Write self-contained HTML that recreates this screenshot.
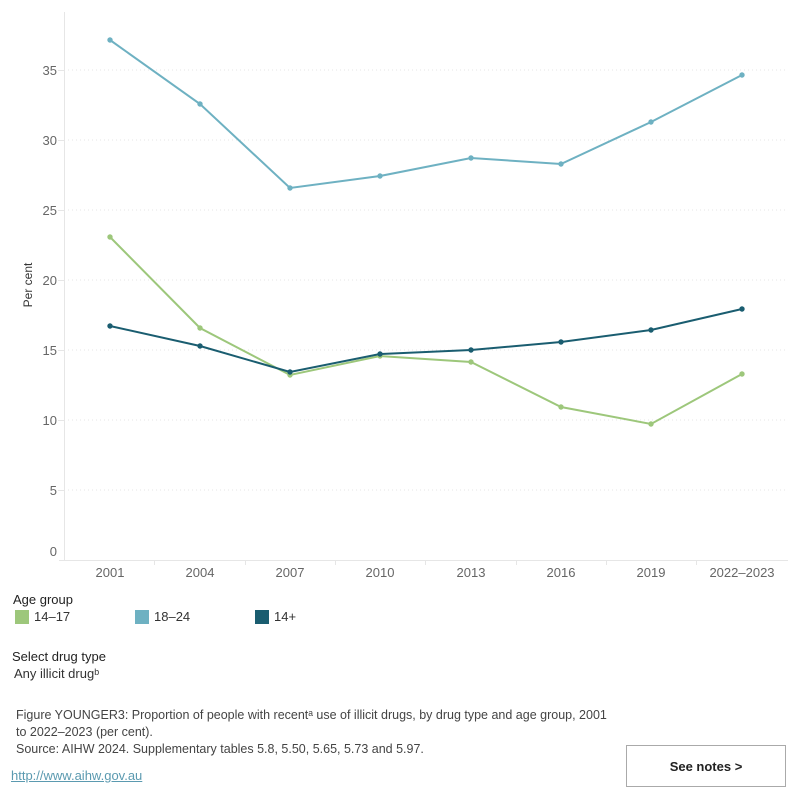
<!DOCTYPE html>
<html><head><meta charset="utf-8"><style>
body{margin:0;background:#fff;font-family:"Liberation Sans",sans-serif;}
.t{position:absolute;color:#333;}
</style></head><body>
<div style="position:relative;width:800px;height:800px;overflow:hidden">
<svg width="800" height="800" style="position:absolute;left:0;top:0" font-family="Liberation Sans, sans-serif">
<g stroke="#e6e6e6" stroke-width="1" stroke-dasharray="1,3">
<line x1="64" x2="788" y1="70" y2="70"/><line x1="64" x2="788" y1="140" y2="140"/>
<line x1="64" x2="788" y1="210" y2="210"/><line x1="64" x2="788" y1="280" y2="280"/>
<line x1="64" x2="788" y1="350" y2="350"/><line x1="64" x2="788" y1="420" y2="420"/>
<line x1="64" x2="788" y1="490" y2="490"/>
</g>
<g stroke="#e6e6e6">
<line x1="64.5" x2="64.5" y1="12" y2="560"/>
<line x1="59" x2="788" y1="560.5" y2="560.5"/>
<line x1="58" x2="64" y1="70.5" y2="70.5"/><line x1="58" x2="64" y1="140.5" y2="140.5"/>
<line x1="58" x2="64" y1="210.5" y2="210.5"/><line x1="58" x2="64" y1="280.5" y2="280.5"/>
<line x1="58" x2="64" y1="350.5" y2="350.5"/><line x1="58" x2="64" y1="420.5" y2="420.5"/>
<line x1="58" x2="64" y1="490.5" y2="490.5"/>
<line x1="154.5" x2="154.5" y1="560" y2="565"/><line x1="245.5" x2="245.5" y1="560" y2="565"/>
<line x1="335.5" x2="335.5" y1="560" y2="565"/><line x1="425.5" x2="425.5" y1="560" y2="565"/>
<line x1="516.5" x2="516.5" y1="560" y2="565"/><line x1="606.5" x2="606.5" y1="560" y2="565"/>
<line x1="696.5" x2="696.5" y1="560" y2="565"/>
</g>
<g font-size="13" fill="#666" text-anchor="end">
<text x="57" y="75">35</text><text x="57" y="145">30</text><text x="57" y="215">25</text>
<text x="57" y="285">20</text><text x="57" y="355">15</text><text x="57" y="425">10</text>
<text x="57" y="495">5</text><text x="57" y="556">0</text>
</g>
<g font-size="13" fill="#666" text-anchor="middle">
<text x="110" y="577">2001</text><text x="200" y="577">2004</text><text x="290" y="577">2007</text>
<text x="380" y="577">2010</text><text x="471" y="577">2013</text><text x="561" y="577">2016</text>
<text x="651" y="577">2019</text><text x="742" y="577">2022–2023</text>
</g>
<text transform="translate(32,285) rotate(-90)" font-size="12" fill="#333" text-anchor="middle">Per cent</text>
<g fill="none" stroke-width="2">
<polyline stroke="#6eb1c2" points="110,40 200,104 290,188 380,176 471,158 561,164 651,122 742,75"/>
<polyline stroke="#9dc77b" points="110,237 200,328 290,375 380,356 471,362 561,407 651,424 742,374"/>
<polyline stroke="#1a5d70" points="110,326 200,346 290,372 380,354 471,350 561,342 651,330 742,309"/>
</g>
<g fill="#6eb1c2"><circle cx="110" cy="40" r="2.7"/><circle cx="200" cy="104" r="2.7"/><circle cx="290" cy="188" r="2.7"/><circle cx="380" cy="176" r="2.7"/><circle cx="471" cy="158" r="2.7"/><circle cx="561" cy="164" r="2.7"/><circle cx="651" cy="122" r="2.7"/><circle cx="742" cy="75" r="2.7"/></g>
<g fill="#9dc77b"><circle cx="110" cy="237" r="2.7"/><circle cx="200" cy="328" r="2.7"/><circle cx="290" cy="375" r="2.7"/><circle cx="380" cy="356" r="2.7"/><circle cx="471" cy="362" r="2.7"/><circle cx="561" cy="407" r="2.7"/><circle cx="651" cy="424" r="2.7"/><circle cx="742" cy="374" r="2.7"/></g>
<g fill="#1a5d70"><circle cx="110" cy="326" r="2.7"/><circle cx="200" cy="346" r="2.7"/><circle cx="290" cy="372" r="2.7"/><circle cx="380" cy="354" r="2.7"/><circle cx="471" cy="350" r="2.7"/><circle cx="561" cy="342" r="2.7"/><circle cx="651" cy="330" r="2.7"/><circle cx="742" cy="309" r="2.7"/></g>
<rect x="15" y="610" width="14" height="14" fill="#9dc77b"/>
<rect x="135" y="610" width="14" height="14" fill="#6eb1c2"/>
<rect x="255" y="610" width="14" height="14" fill="#1a5d70"/>
</svg>
<div class="t" style="left:13px;top:592px;font-size:13px;color:#222">Age group</div>
<div class="t" style="left:34px;top:609px;font-size:13px">14–17</div>
<div class="t" style="left:154px;top:609px;font-size:13px">18–24</div>
<div class="t" style="left:274px;top:609px;font-size:13px">14+</div>
<div class="t" style="left:12px;top:649px;font-size:13px;color:#222">Select drug type</div>
<div class="t" style="left:14px;top:666px;font-size:13px">Any illicit drugᵇ</div>
<div class="t" style="left:16px;top:707px;font-size:12.5px;line-height:17px;color:#444">Figure YOUNGER3: Proportion of people with recentᵃ use of illicit drugs, by drug type and age group, 2001<br>to 2022–2023 (per cent).<br>Source: AIHW 2024. Supplementary tables 5.8, 5.50, 5.65, 5.73 and 5.97.</div>
<div class="t" style="left:11px;top:768px;font-size:13px;color:#5b9ab0;text-decoration:underline">http://www.aihw.gov.au</div>
<div style="position:absolute;left:626px;top:745px;width:160px;height:42px;border:1px solid #aaa;box-sizing:border-box;display:flex;align-items:center;justify-content:center;font-size:13px;font-weight:bold;color:#222">See notes &gt;</div>
</div>
</body></html>
